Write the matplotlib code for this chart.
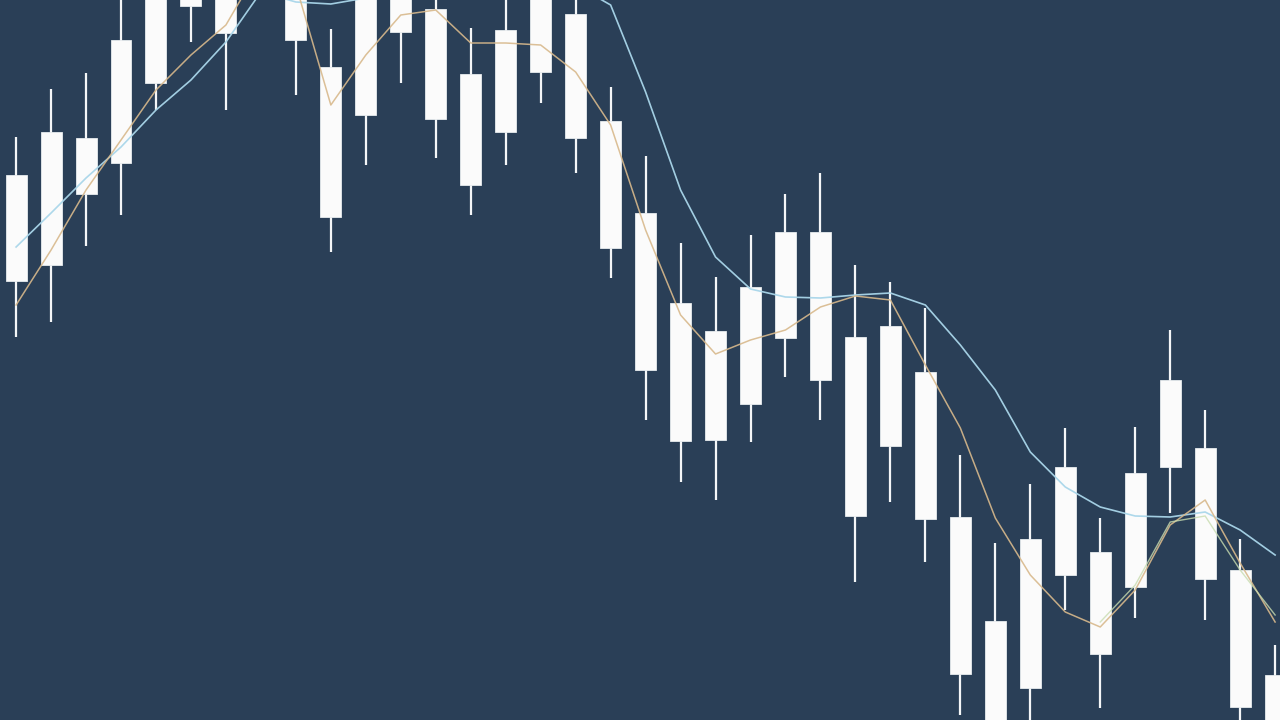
import numpy as np
import matplotlib
matplotlib.use("Agg")
import matplotlib.pyplot as plt

# Candle prices (one entry per session)
highs = [166.3, 171.1, 172.7, 180.5, 186.0, 184.0, 183.5, 190.0, 185.5, 177.1,
         184.0, 186.0, 181.0, 177.2, 182.0, 186.0, 181.5, 171.3, 164.4, 155.7,
         152.3, 156.5, 160.6, 162.7, 153.5, 151.8, 149.2, 134.5, 125.7, 131.6,
         137.2, 128.2, 137.3, 147.0, 139.0, 126.1, 115.5]
body_tops = [162.5, 166.8, 166.2, 176.0, 183.0, 182.0, 181.5, 187.0, 183.0, 173.3,
             181.0, 184.0, 179.1, 172.6, 177.0, 183.0, 178.6, 167.9, 158.7, 149.7,
             146.9, 151.3, 156.8, 156.8, 146.3, 147.4, 142.8, 128.3, 117.9, 126.1,
             133.3, 124.8, 132.7, 142.0, 135.2, 123.0, 112.5]
body_bottoms = [151.9, 153.5, 160.6, 163.7, 171.7, 179.4, 176.7, 183.0, 176.0, 158.3,
                168.5, 176.8, 168.1, 161.5, 166.8, 172.8, 166.2, 155.2, 143.0, 135.9,
                136.0, 139.6, 146.2, 142.0, 128.4, 135.4, 128.1, 112.6, 104.0, 111.2,
                122.5, 114.6, 121.3, 133.3, 122.1, 109.3, 100.0]
lows = [146.3, 147.8, 155.4, 158.5, 169.0, 175.8, 169.0, 181.0, 170.5, 154.8,
        163.5, 171.7, 164.2, 158.5, 163.5, 169.7, 162.7, 152.2, 138.0, 131.8,
        130.0, 135.8, 142.3, 138.0, 121.8, 129.8, 123.8, 108.5, 101.0, 106.0,
        119.0, 109.2, 118.2, 128.7, 118.0, 106.5, 98.0]

# Moving averages
ma_slow = [155.3, 158.7, 162.2, 165.3, 169.0, 172.0, 175.8, 180.8, 179.8, 179.6,
           180.2, 182.5, 184.5, 185.5, 185.0, 183.5, 181.5, 179.5, 170.8, 161.0,
           154.3, 151.1, 150.3, 150.2, 150.5, 150.7, 149.5, 145.5, 141.0, 134.8,
           131.3, 129.3, 128.4, 128.3, 128.8, 127.0, 124.5]
ma_fast = [149.5, 155.0, 161.0, 166.0, 171.0, 174.5, 177.5, 183.5, 181.5, 169.5,
           174.5, 178.5, 179.0, 175.7, 175.7, 175.5, 172.8, 167.5, 157.0, 148.5,
           144.6, 146.0, 147.0, 149.3, 150.4, 150.0, 143.5, 137.2, 128.2, 122.5,
           118.8, 117.3, 121.0, 127.5, 130.0, 123.7, 117.8]
ma_mid = [None] * 31 + [117.8, 121.5, 127.8, 128.4, 123.0, 118.5]

bg = "#2a3f57"
idx = np.arange(len(highs))

fig = plt.figure(figsize=(12.8, 7.2), dpi=100, facecolor=bg)
ax = fig.add_axes([0, 0, 1, 1])
ax.set_facecolor(bg)

# Wicks and bodies
ax.vlines(idx, lows, highs, color="#f4f6f8", linewidth=1.6, zorder=2)
ax.bar(idx, np.array(body_tops) - np.array(body_bottoms), bottom=body_bottoms,
       width=0.6, color="#fbfbfb", edgecolor="#e8ecef", linewidth=0.6, zorder=3)

# Moving average lines
ax.plot(idx, ma_slow, color="#a9d6ea", linewidth=1.2, alpha=0.95, zorder=4)
ax.plot(idx, ma_fast, color="#d8b98c", linewidth=1.1, alpha=0.9, zorder=4)
mid = np.array([np.nan if v is None else v for v in ma_mid])
ax.plot(idx, mid, color="#c8dcb0", linewidth=1.0, alpha=0.8, zorder=4)

ax.set_xlim(-0.46, 36.14)
ax.set_ylim(108, 180)
ax.axis("off")

fig.savefig("out.png", dpi=100, facecolor=bg)
